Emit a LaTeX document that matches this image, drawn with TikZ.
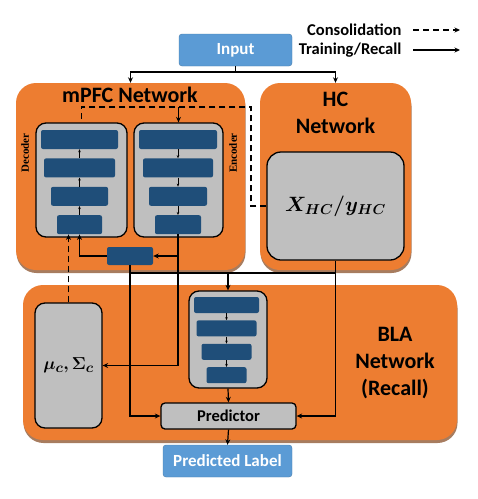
\documentclass[tikz,border=0pt]{standalone}
\usepackage{fontspec}
\setmainfont{Carlito}
\newfontfamily\tagfont{Liberation Serif}
\usepackage{amsmath,bm}
\usetikzlibrary{arrows.meta, positioning, calc, shadows}

\definecolor{netorange}{HTML}{ED7D31}
\definecolor{memgray}{HTML}{BFBFBF}
\definecolor{layerblue}{HTML}{1F4E79}
\definecolor{ioblue}{HTML}{5B9BD5}

\begin{document}
\begin{tikzpicture}[
  x=1pt, y=-1pt,
  font=\bfseries,
  >={Stealth[length=5.5pt, width=5pt]},
  arrow/.style={->, line width=1.2pt},
  minarrow/.style={->, line width=0.6pt, >={Stealth[length=3pt, width=2.5pt]}},
  dashline/.style={line width=1.4pt, dash pattern=on 6pt off 4pt},
  net/.style={fill=netorange, rounded corners=20pt, inner sep=0pt,
    drop shadow={shadow xshift=0.5pt, shadow yshift=-3pt, fill=netorange!55!black, opacity=0.7}},
  mem/.style={draw=black, line width=1.3pt, fill=memgray, rounded corners=10pt, inner sep=0pt},
  layer/.style={fill=layerblue, rounded corners=2pt, minimum height=19pt, inner sep=0pt},
  io/.style={draw=ioblue!80!black, fill=ioblue, text=white, rounded corners=3pt,
    minimum height=32pt, inner sep=0pt, font=\bfseries\fontsize{17}{20}\selectfont},
  title/.style={font=\bfseries\fontsize{22}{27}\selectfont, align=center},
  legend/.style={font=\bfseries\fontsize{16.5}{19}\selectfont, anchor=east},
  tag/.style={font=\tagfont\bfseries\fontsize{11}{12}\selectfont, rotate=90}
]
\useasboundingbox (0,0) rectangle (478,499);

% =========================
% Legend
% =========================
\node[legend] (lgcons) at (405,30) {Consolidation};
\node[legend] (lgtrain) at (405,50) {Training/Recall};
\coordinate (lgconsA) at (413,30);
\coordinate (lgconsB) at (460,30);
\coordinate (lgtrainA) at (413,50);
\coordinate (lgtrainB) at (460,50);
\draw[dashline, ->] (lgconsA) -- (lgconsB);
\draw[arrow] (lgtrainA) -- (lgtrainB);

% =========================
% Input and the three networks
% =========================
\node[io, minimum width=113pt] (input) at (235.5,50) {Input};

\node[net, minimum width=229pt, minimum height=187pt] (mpfc) at (130.5,176.5) {};
\node[title] (mpfclbl) at (130,94.5) {mPFC Network};

\node[net, minimum width=151pt, minimum height=187pt] (hc) at (335.5,176.5) {};
\node[title] (hclbl) at (335.5,113) {HC\\Network};

\node[net, minimum width=434pt, minimum height=155pt] (bla) at (240,362.5) {};
\node[title] (blalbl) at (395,363) {BLA\\Network\\(Recall)};

% split of the input
\coordinate (split) at (235.5,72);
\draw[line width=1.2pt] (input.south) -- (split);
\draw[arrow] (split) -| (mpfc.north);
\draw[arrow] (split) -| (hc.north);

% =========================
% mPFC: decoder / encoder
% =========================
\node[mem, minimum width=91pt, minimum height=114pt] (dec) at (81.5,180) {};
\node[mem, minimum width=89pt, minimum height=114pt] (enc) at (178.5,180) {};
\node[tag] (declbl) at (25,153) {Decoder};
\node[tag] (enclbl) at (233,153) {Encoder};

\node[layer, minimum width=77pt] (dl1) at (79.5,139.5) {};
\node[layer, minimum width=71pt, below=9pt of dl1] (dl2) {};
\node[layer, minimum width=57pt, below=9pt of dl2] (dl3) {};
\node[layer, minimum width=45pt, below=9pt of dl3] (dl4) {};

\node[layer, minimum width=78pt] (el1) at (178,139.5) {};
\node[layer, minimum width=70pt, below=9pt of el1] (el2) {};
\node[layer, minimum width=58pt, below=9pt of el2] (el3) {};
\node[layer, minimum width=46pt, below=9pt of el3] (el4) {};

\draw[minarrow] (dl4) -- (dl3);
\draw[minarrow] (dl3) -- (dl2);
\draw[minarrow] (dl2) -- (dl1);
\draw[minarrow] (el1) -- (el2);
\draw[minarrow] (el2) -- (el3);
\draw[minarrow] (el3) -- (el4);

% latent code
\node[layer, minimum width=46pt, minimum height=18pt] (lat) at (130,256) {};

% =========================
% HC memory
% =========================
\node[mem, rounded corners=14pt, minimum width=137pt, minimum height=108pt] (hcmem) at (335.5,206)
  {\fontsize{20}{24}\selectfont$\bm{X_{HC}/y_{HC}}$};

% consolidation path
\coordinate (cnturn) at (251,107);
\draw[dashline] (hcmem.west) -| (cnturn) -| (dec.north);
\draw[arrow] (enc.north |- cnturn) -- (enc.north);

% =========================
% BLA: statistics, encoder, predictor
% =========================
\node[mem, minimum width=67pt, minimum height=125pt] (mu) at (68.5,365.5)
  {\fontsize{19}{23}\selectfont$\bm{\mu_c, \Sigma_c}$};

\node[mem, minimum width=78pt, minimum height=97pt] (blaenc) at (228,339.5) {};
\node[layer, minimum width=65pt, minimum height=16pt] (bl1) at (226.5,305) {};
\node[layer, minimum width=60pt, minimum height=16pt, below=7pt of bl1] (bl2) {};
\node[layer, minimum width=50pt, minimum height=16pt, below=7pt of bl2] (bl3) {};
\node[layer, minimum width=40pt, minimum height=16pt, below=7pt of bl3] (bl4) {};
\draw[minarrow] (bl1) -- (bl2);
\draw[minarrow] (bl2) -- (bl3);
\draw[minarrow] (bl3) -- (bl4);

\node[mem, rounded corners=4pt, minimum width=135pt, minimum height=26pt,
  font=\bfseries\fontsize{16.5}{19}\selectfont] (pred) at (228.5,416) {Predictor};
\node[io, minimum width=129pt] (label) at (227.5,461) {Predicted Label};

% =========================
% Connectors
% =========================
\draw[arrow] (el4.south |- lat.east) -- (lat.east);
\draw[arrow] (lat.west) -| (dl4.south);
\draw[dashline, ->] (mu.north) -- (mu.north |- dl4.south);
\draw[arrow] (el4.south) |- (mu.east);

\coordinate (join) at (228,273);
\draw[line width=1.2pt] (lat.south |- join) -- (hcmem.south |- join);
\draw[arrow] (join) -- (blaenc.north);
\draw[arrow] (lat.south) |- (pred.west);
\draw[arrow] (hcmem.south) |- (pred.east);
\draw[arrow] (blaenc.south) -- (pred.north);
\draw[arrow] (pred.south) -- (label.north);

\end{tikzpicture}
\end{document}
